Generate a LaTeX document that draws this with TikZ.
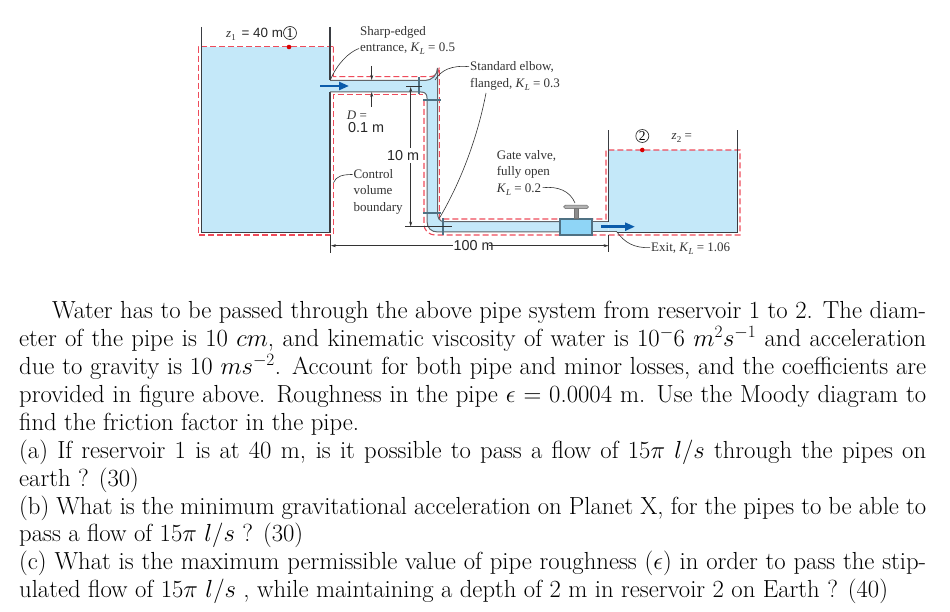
\RequirePackage{fix-cm}
\documentclass[tikz,border=0pt]{standalone}
\usepackage{fontspec}
\usepackage{amsmath}
\newfontfamily\lblserif{Liberation Serif}
\newfontfamily\lblsans{Liberation Sans}
\usetikzlibrary{arrows.meta}
\definecolor{waterc}{HTML}{C4E8F9}
\definecolor{valvec}{HTML}{8FD5F6}
\definecolor{wallc}{HTML}{3A3D42}
\definecolor{flangec}{HTML}{4F7183}
\definecolor{cvred}{HTML}{EE4B5B}
\definecolor{flowc}{HTML}{0B5CAB}
\definecolor{lblc}{HTML}{333333}
\tikzset{
  wall/.style={draw=wallc,line width=1.5pt},
  pipewall/.style={draw=wallc!80,line width=1pt},
  flange/.style={draw=flangec,line width=2pt},
  cvline/.style={draw=cvred,line width=1.1pt,dash pattern=on 6pt off 3pt},
  flowarrow/.style={draw=flowc,line width=2.4pt,-{Triangle[length=10pt,width=8pt]}},
  leader/.style={draw=lblc,line width=.6pt},
  dimline/.style={draw=lblc,line width=.6pt},
  dimtip/.style={dimline,-{Stealth[length=5pt,width=3pt]}},
  slabel/.style={font=\lblserif\fontsize{13}{15}\selectfont,text=lblc,anchor=base west,inner sep=0pt},
  hlabel/.style={font=\lblsans\fontsize{14.4}{16}\selectfont,text=black!85,anchor=base west,inner sep=0pt},
  body/.style={anchor=base west,inner sep=0pt,font=\fontsize{24.7}{27}\selectfont},
  marker/.style={draw=lblc,line width=.7pt,circle,minimum size=13pt,inner sep=0pt,font=\lblserif\fontsize{13.5}{14}\selectfont},
  reddot/.style={circle,fill=red!85!black,draw=none,minimum size=4.6pt,inner sep=0pt},
}
\newcommand{\jl}[1]{\hbox to 907pt{#1}}
\begin{document}
\begin{tikzpicture}[x=1pt,y=-1pt]
\useasboundingbox (0,0) rectangle (950,612);
% water
\fill[waterc] (201,47) rectangle (330,232);
\fill[waterc] (608.7,150) rectangle (737,232);
\fill[waterc] (330,80.5) -- (425,80.5) arc[start angle=90,end angle=0,radius=12.5] -- (437.5,212) .. controls (437.5,218) and (439,221.7) .. (445,221.7) -- (608.7,221.7) -- (608.7,232) -- (438,232) .. controls (431,232) and (427,228) .. (427,221) -- (427,98) .. controls (427,94) and (425,92) .. (421,92) -- (330,92) -- cycle;
% control volume
\draw[cvline] (333.3,46.7) -- (198.3,46.7) -- (198.3,235) -- (333.3,235) -- (333.3,94.5) -- (423,94.5);
\draw[cvline] (333.3,46.7) -- (333.3,76.7) -- (430,76.7) arc[start angle=90,end angle=0,radius=9.3] -- (439.3,219) -- (606,219) -- (606,150) -- (740,150) -- (740,235) -- (436,235) .. controls (428,235) and (424,230) .. (424,224) -- (424,100);
% walls
\draw[wall] (201.3,27) -- (201.3,232.3) -- (330,232.3) -- (330,92);
\draw[wall] (330,27) -- (330,80.5);
\draw[pipewall] (330,80.5) -- (425,80.5) arc[start angle=90,end angle=0,radius=12.5] -- (437.5,212) .. controls (437.5,218) and (439,221.7) .. (445,221.7) -- (560,221.7);
\draw[pipewall] (330,92) -- (421,92) .. controls (425,92) and (427,94) .. (427,98) -- (427,221) .. controls (427,228) and (431,232) .. (438,232) -- (560,232);
\draw[pipewall] (592,232) -- (617,232);
\draw[pipewall] (592,221.7) -- (608.7,221.7);
\draw[wall] (608.7,222.4) -- (608.7,130);
\draw[wall] (617,232.3) -- (737.3,232.3) -- (737.3,130);
% flanges
\draw[flange] (419,77) -- (419,94);
\draw[flange] (423,100) -- (440.7,100);
\draw[flange] (423,213.3) -- (440.7,213.3);
\draw[flange] (443.3,218.3) -- (443.3,235);
% valve
\node[draw=flangec,fill=valvec,line width=1.1pt,minimum width=32pt,minimum height=16pt,inner sep=0pt] (valve) at (576,227) {};
\node[draw=black!55,fill=black!45,line width=.5pt,minimum width=4pt,minimum height=10pt,inner sep=0pt,anchor=south] (stem) at (valve.north) {};
\node[draw=black!60,fill=black!30,line width=.5pt,rounded corners=1.8pt,minimum width=25pt,minimum height=3.6pt,inner sep=0pt,anchor=south] (wheel) at ([yshift=-1pt]stem.north) {};
% flow arrows
\coordinate (fa1) at (320,86); \coordinate (fb1) at (349,86);
\coordinate (fa2) at (601,226.7); \coordinate (fb2) at (635,226.7);
\draw[flowarrow] (fa1) -- (fb1);
\draw[flowarrow] (fa2) -- (fb2);
% dimension D
\coordinate (da) at (371.7,66); \coordinate (db) at (371.7,80);
\coordinate (dc) at (371.7,106.7); \coordinate (dd) at (371.7,92);
\draw[dimtip] (da) -- (db);
\draw[dimtip] (dc) -- (dd);
\node[slabel] (dlabel) at (346.7,120) {\textit{D} =};
\node[hlabel] (dvalue) at (348,132.7) {0.1 m};
% dimension 10 m
\node[hlabel] (tenm) at (387,160.5) {10 m};
\coordinate (ta) at (410.7,87); \coordinate (tb) at (410.7,148);
\coordinate (tc) at (410.7,163); \coordinate (td) at (410.7,226.5);
\draw[dimtip] (tb) -- (ta);
\draw[dimtip] (tc) -- (td);
\coordinate (tt1) at (406,86.7); \coordinate (tt2) at (421.7,86.7);
\coordinate (tt3) at (405,226.7); \coordinate (tt4) at (452,226.7);
\draw[dimline] (tt1) -- (tt2);
\draw[dimline] (tt3) -- (tt4);
% dimension 100 m
\node[hlabel] (hundred) at (453.5,250.3) {100 m};
\coordinate (ha) at (331,245.7); \coordinate (hb) at (453,245.7);
\coordinate (hc) at (489,245.7); \coordinate (hd) at (608.5,245.7);
\draw[dimtip] (hb) -- (ha);
\draw[dimtip] (hc) -- (hd);
\coordinate (ea) at (330.7,235); \coordinate (eb) at (330.7,253);
\coordinate (ec) at (608.7,235); \coordinate (ed) at (608.7,252);
\draw[dimline] (ea) -- (eb);
\draw[dimline] (ec) -- (ed);
% labels top
\node[slabel] (z1) at (226,38) {\textit{z}\raisebox{-2.5pt}{\fontsize{9}{9}\selectfont 1}};
\node[hlabel,font=\lblsans\fontsize{13.4}{16}\selectfont] (z1v) at (241.5,38) {= 40 m};
\node[marker] (m1) at (290,33) {1};
\node[reddot] (p1) at (289,47) {};
\node[marker] (m2) at (642.3,136) {2};
\node[reddot] (p2) at (642.3,150) {};
\node[slabel] (z2) at (671.5,140) {\textit{z}\raisebox{-2.5pt}{\fontsize{9}{9}\selectfont 2} =};
% annotations
\newcommand{\KL}{\textit{K}\raisebox{-2.5pt}{\fontsize{9}{9}\selectfont\textit{L}}}
\node[slabel] (se1) at (360,36) {Sharp-edged};
\node[slabel] (se2) at (360,51.7) {entrance, \KL{} = 0.5};
\node[slabel] (se3) at (470,71) {Standard elbow,};
\node[slabel] (se4) at (470,88) {flanged, \KL{} = 0.3};
\node[slabel] (cv1) at (353.3,178.5) {Control};
\node[slabel] (cv2) at (353.3,195) {volume};
\node[slabel] (cv3) at (353.3,211.7) {boundary};
\node[slabel] (gv1) at (496.7,159.3) {Gate valve,};
\node[slabel] (gv2) at (496.7,176) {fully open};
\node[slabel] (gv3) at (496.7,192.7) {\KL{} = 0.2};
\node[slabel] (ex) at (651,251.7) {Exit, \KL{} = 1.06};
% leaders
\coordinate (l1) at (330.7,79.3);
\coordinate (l2) at (435,80);
\coordinate (l3) at (439.3,218.3);
\coordinate (l4) at (333.5,182.7);
\coordinate (l5) at (575,203);
\coordinate (l6) at (616.7,231.7);
\coordinate (s1) at (359,48.5);
\coordinate (s2) at (469,66.7);
\coordinate (s3) at (486,93);
\coordinate (s4) at (352.5,174.5);
\coordinate (s5) at (542.7,187.7);
\coordinate (s6) at (650,247.7);
\draw[leader] (s1) .. controls (349,52) and (337,64) .. (l1);
\draw[leader] (s2) .. controls (452,65) and (441,70) .. (l2);
\draw[leader] (s3) .. controls (478,135) and (462,180) .. (l3);
\draw[leader] (s4) .. controls (343,174.5) and (336,176) .. (l4);
\draw[leader] (s5) .. controls (558,186) and (570,191) .. (l5);
\draw[leader] (s6) .. controls (634,248) and (625,243) .. (l6);
% body text
\node[body] (t1) at (19,318.3) {\jl{\hspace{33pt}Water has to be passed through the above pipe system from reservoir 1 to 2. The diam-}};
\node[body] (t2) at (19,346.3) {\jl{eter of the pipe is 10 $cm$, and kinematic viscosity of water is $10^-6$ $m^2s^{-1}$ and acceleration}};
\node[body] (t3) at (19,374.2) {\jl{due to gravity is 10 $ms^{-2}$. Account for both pipe and minor losses, and the coefficients are}};
\node[body] (t4) at (19,402.2) {\jl{provided in figure above. Roughness in the pipe $\epsilon$ = 0.0004 m. Use the Moody diagram to}};
\node[body] (t5) at (19,430.1) {find the friction factor in the pipe.};
\node[body] (t6) at (19,458) {\jl{(a) If reservoir 1 is at 40 m, is it possible to pass a flow of 15$\pi$ $l/s$ through the pipes on}};
\node[body] (t7) at (19,486) {earth ? (30)};
\node[body] (t8) at (19,514) {\jl{(b) What is the minimum gravitational acceleration on Planet X, for the pipes to be able to}};
\node[body] (t9) at (19,541.9) {pass a flow of 15$\pi$ $l/s$ ? (30)};
\node[body] (t10) at (19,569.9) {\jl{(c) What is the maximum permissible value of pipe roughness ($\epsilon$) in order to pass the stip-}};
\node[body] (t11) at (19,597.8) {ulated flow of 15$\pi$ $l/s$ , while maintaining a depth of 2 m in reservoir 2 on Earth ? (40)};
\end{tikzpicture}
\end{document}
